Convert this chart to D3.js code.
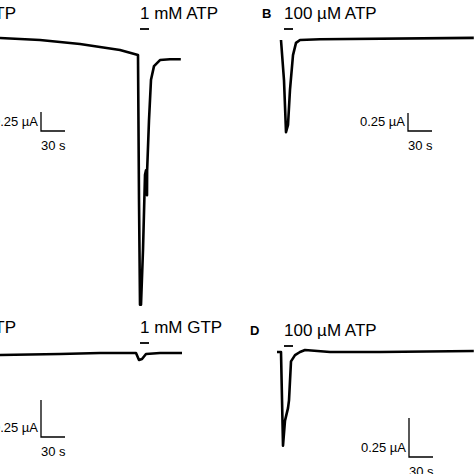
<!DOCTYPE html>
<html><head><meta charset="utf-8">
<script src="https://cdn.jsdelivr.net/npm/d3@7"></script>
<style>body{margin:0;background:#fff}text{font-family:"Liberation Sans",Arial,sans-serif}</style>
</head><body><svg id="fig" width="474" height="474"></svg>
<script>
// traces: time (s) and current (uA) relative to baseline
var tA = [0, 50, 100, 150, 172.5, 173.75, 175, 176.25, 178.75, 181.25, 182.5, 183.75, 183.9, 186.25, 188.75, 192.5, 200, 212.5, 226];
var iA = [0, -0.026, -0.079, -0.158, -0.224, -2.13, -3.51, -3.51, -2.79, -1.80, -1.74, -2.07, -1.75, -1.08, -0.55, -0.37, -0.29, -0.28, -0.28];
var tB = [0, 3.75, 6.25, 8.75, 11.25, 15, 18.75, 23.75, 48.75, 241];
var iB = [0, -0.56, -1.28, -1.18, -0.69, -0.21, -0.04, 0, 0.01, 0.03];
var tC = [0, 75, 125, 170, 173.75, 177.5, 182.5, 200, 227.5];
var iC = [0, 0.007, 0.014, 0.014, -0.034, -0.027, 0.007, 0.014, 0.014];
var tD = [0, 5, 7.5, 10, 13.75, 15, 17.5, 22.5, 28.75, 35, 66.25, 128.75, 246];
var iD = [0, 0, -0.60, -0.44, -0.36, -0.31, -0.06, -0.02, 0, 0.013, 0, 0, 0.006];

var panels = [
  {letter: "", t: tA, i: iA, x0: 0, y0: 38, k: 76, pre: "100 \u00b5M ATP", drug: "1 mM ATP", dx: 140, ly: 19, bx: 41, by: 131},
  {letter: "B", lx: 262, t: tB, i: iB, x0: 281, y0: 40, k: 72, pre: null, drug: "100 \u00b5M ATP", dx: 284, ly: 19, bx: 408, by: 131},
  {letter: "", t: tC, i: iC, x0: 0, y0: 355, k: 148, pre: "100 \u00b5M ATP", drug: "1 mM GTP", dx: 140, ly: 333, bx: 41, by: 437},
  {letter: "D", lx: 250, t: tD, i: iD, x0: 277, y0: 352, k: 156, pre: null, drug: "100 \u00b5M ATP", dx: 284, ly: 336, bx: 409, by: 457}
];
var pxPerSec = 0.8;
var svg = d3.select("#fig");

panels.forEach(function (p) {
  var x = d3.scaleLinear().domain([0, 1]).range([p.x0, p.x0 + pxPerSec]);
  var y = d3.scaleLinear().domain([0, -1]).range([p.y0, p.y0 + p.k]);
  var line = d3.line().x(function (d) { return x(d[0]); }).y(function (d) { return y(d[1]); });
  var pts = p.t.map(function (t, j) { return [t, p.i[j]]; });
  svg.append("path").attr("d", line(pts)).attr("fill", "none")
    .attr("stroke", "#000").attr("stroke-width", 2.6).attr("stroke-linejoin", "round");

  if (p.letter) {
    svg.append("text").attr("x", p.lx).attr("y", p.ly - 1).attr("font-weight", "bold")
      .attr("font-size", 13).text(p.letter);
  }
  if (p.pre) {
    svg.append("text").attr("x", 16).attr("y", p.ly).attr("text-anchor", "end")
      .attr("font-size", 17).text(p.pre);
  }
  svg.append("text").attr("x", p.dx).attr("y", p.ly).attr("font-size", 17).text(p.drug);
  svg.append("line").attr("x1", p.dx).attr("x2", p.dx + 9).attr("y1", p.ly + 10).attr("y2", p.ly + 10)
    .attr("stroke", "#000").attr("stroke-width", 1.8);

  // scale bars: 0.25 uA, 30 s
  var h = 0.25 * p.k, w = 30 * pxPerSec;
  svg.append("path").attr("d", "M" + p.bx + "," + (p.by - h) + "V" + p.by + "H" + (p.bx + w))
    .attr("fill", "none").attr("stroke", "#000").attr("stroke-width", 1.3);
  svg.append("text").attr("x", p.bx - 3).attr("y", p.by - 5).attr("text-anchor", "end")
    .attr("font-size", 13).text("0.25 \u00b5A");
  svg.append("text").attr("x", p.bx).attr("y", p.by + 19).attr("font-size", 13).text("30 s");
});
</script></body></html>
